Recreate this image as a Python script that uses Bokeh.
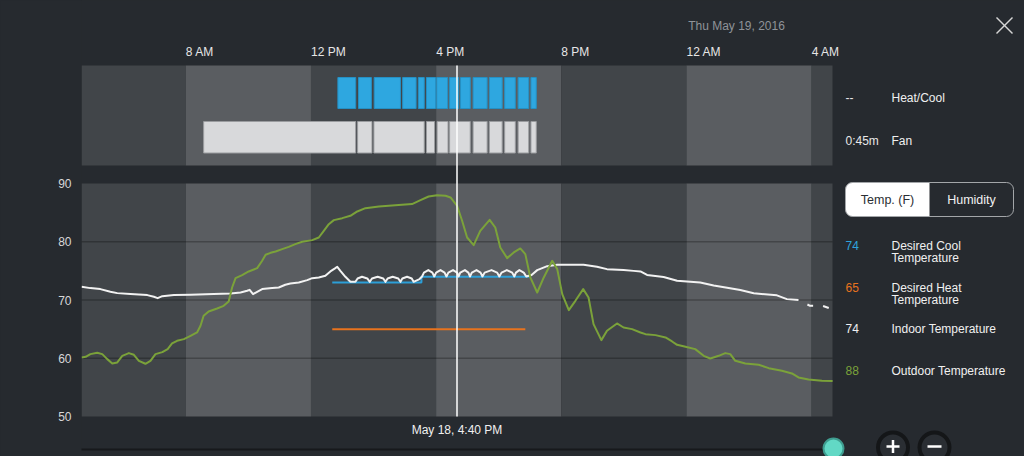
from bokeh.plotting import figure
from bokeh.models import Range1d, FixedTicker
from bokeh.embed import file_html
from bokeh.resources import INLINE
from bokeh.core.properties import value

# ---------------- data ----------------
window_start = 4 + 40 / 60           # May 18, 4:40 AM (hours after midnight of May 18)
window_end = window_start + 24        # May 19, 4:40 AM
cursor_hour = 16 + 40 / 60            # May 18, 4:40 PM
cursor_label = "May 18, 4:40 PM"
date_label = "Thu May 19, 2016"

tick_hours = [8, 12, 16, 20, 24, 28]
tick_labels = ["8 AM", "12 PM", "4 PM", "8 PM", "12 AM", "4 AM"]

band_start = [window_start, 8, 12, 16, 20, 24, 28]
band_end = [8, 12, 16, 20, 24, 28, window_end]
band_shade = ["dark", "light", "dark", "light", "dark", "light", "dark"]

temp_ticks = [50, 60, 70, 80, 90]
grid_temps = [60, 70, 80]

# equipment run periods (hours)
heatcool_on = [12.86, 13.52, 14.02, 14.93, 15.43, 15.69, 16.02, 16.43, 16.78, 17.18, 17.70, 18.19, 18.62, 19.03]
heatcool_off = [13.43, 13.93, 14.86, 15.36, 15.62, 15.98, 16.37, 16.72, 17.09, 17.63, 18.11, 18.53, 18.96, 19.20]
fan_on = [8.57, 13.49, 14.01, 15.69, 16.03, 16.43, 17.18, 17.70, 18.19, 18.62, 19.03]
fan_off = [13.43, 13.95, 15.62, 15.95, 16.38, 17.09, 17.63, 18.11, 18.53, 18.96, 19.20]

# outdoor temperature (F)
outdoor_h = [4.67, 4.80, 4.95, 5.17, 5.33, 5.49, 5.65, 5.81, 5.97, 6.18, 6.34, 6.50, 6.71, 6.87,
             7.03, 7.25, 7.42, 7.56, 7.72, 7.94, 8.15, 8.36, 8.47, 8.57, 8.73, 9.00, 9.21, 9.37,
             9.48, 9.59, 9.80, 10.01, 10.28, 10.44, 10.55, 10.71, 10.87, 11.08, 11.29, 11.50,
             11.72, 12.04, 12.25, 12.41, 12.57, 12.73, 13.00, 13.26, 13.48, 13.74, 14.17, 14.80,
             15.23, 15.50, 15.76, 16.03, 16.30, 16.46, 16.67, 16.83, 16.99, 17.20, 17.41, 17.71,
             17.89, 18.05, 18.27, 18.48, 18.69, 18.85, 19.01, 19.23, 19.44, 19.71, 19.87, 20.03,
             20.24, 20.45, 20.70, 20.87, 21.03, 21.28, 21.46, 21.78, 21.99, 22.26, 22.53, 22.69,
             23.01, 23.33, 23.54, 23.70, 23.97, 24.28, 24.55, 24.76, 25.03, 25.24, 25.40, 25.56,
             25.88, 26.31, 26.63, 27.05, 27.37, 27.58, 27.90, 28.33, 28.67]
outdoor_f = [60.13, 60.25, 60.71, 60.94, 60.71, 59.85, 59.10, 59.28, 60.42, 60.88, 60.59, 59.56, 59.05, 59.56,
             60.71, 61.05, 61.57, 62.54, 63.00, 63.28, 63.85, 64.43, 65.57, 67.29, 68.03, 68.55, 69.00, 69.75,
             72.15, 73.75, 74.27, 74.90, 75.47, 76.73, 77.76, 78.10, 78.33, 78.73, 79.13, 79.59,
             79.99, 80.28, 80.73, 81.88, 83.02, 83.71, 84.05, 84.45, 85.20, 85.77, 86.06, 86.29,
             86.46, 87.14, 87.77, 88.00, 87.89, 87.60, 86.17, 83.60, 80.73, 79.42, 81.88, 83.77,
             82.45, 79.02, 77.19, 78.16, 78.85, 77.87, 73.87, 71.29, 73.87, 76.73, 75.30, 71.01,
             68.26, 69.86, 71.87, 70.43, 65.86, 63.11, 64.71, 65.97, 65.28, 65.00, 64.43, 64.14,
             63.97, 63.57, 62.88, 62.31, 61.97, 61.57, 60.42, 59.96, 60.42, 60.88, 60.71, 59.56,
             59.10, 58.88, 58.30, 57.85, 57.39, 56.70, 56.36, 56.13, 56.08]

# indoor temperature (F), recorded part
indoor_h = [4.67, 4.95, 5.27, 5.59, 5.81, 6.23, 6.77, 6.98, 7.10, 7.25, 7.62, 8.15, 8.89, 9.43,
            9.75, 9.96, 10.04, 10.15, 10.28, 10.44, 10.76, 10.97, 11.18, 11.34, 11.61, 11.88,
            12.04, 12.25, 12.46, 12.62, 12.78, 12.84, 12.94, 13.10, 13.26, 13.42,
            13.49, 13.63, 13.80, 13.88, 13.95, 14.13, 14.31, 14.38, 14.45, 14.61, 14.79, 14.86,
            14.92, 15.07, 15.22, 15.28, 15.47, 15.55,
            15.61, 15.75, 15.88, 15.94, 16.00, 16.14, 16.27, 16.33, 16.39, 16.54, 16.67, 16.72,
            16.77, 16.92, 17.03, 17.08, 17.14, 17.29, 17.42, 17.48, 17.55, 17.77, 17.95, 18.02,
            18.09, 18.26, 18.43, 18.50, 18.55, 18.66, 18.80, 18.88,
            19.05, 19.23, 19.55, 19.87, 20.71, 21.14, 21.46, 21.99, 22.31, 22.53, 22.74, 23.27,
            23.70, 24.44, 24.87, 25.30, 25.72, 26.15, 26.89, 27.21, 27.58]
indoor_f = [72.27, 72.04, 71.87, 71.41, 71.18, 71.01, 70.84, 70.55, 70.32, 70.66, 70.84, 70.89, 71.01, 71.12,
            71.29, 71.58, 71.75, 71.01, 71.41, 71.87, 72.04, 72.15, 72.61, 72.84, 73.01, 73.41,
            73.75, 73.87, 74.15, 74.90, 75.47, 75.70, 75.01, 73.98, 73.12, 73.12,
            73.70, 74.00, 73.70, 73.12, 73.70, 74.00, 73.70, 73.12, 73.70, 74.00, 73.70, 73.12,
            73.70, 74.00, 73.70, 73.12, 73.60, 74.04,
            74.70, 75.13, 74.70, 74.04, 74.70, 75.13, 74.70, 74.04, 74.70, 75.13, 74.70, 74.04,
            74.70, 75.13, 74.70, 74.04, 74.70, 75.13, 74.70, 74.04, 74.70, 75.13, 74.70, 74.04,
            74.70, 75.13, 74.70, 74.04, 74.70, 75.13, 74.70, 74.04,
            74.30, 75.13, 75.81, 76.04, 76.04, 75.70, 75.30, 75.13, 75.00, 74.90, 74.30, 73.95,
            73.30, 73.00, 72.50, 72.10, 71.70, 71.15, 70.80, 70.15, 70.00]
# indoor temperature, sparse readings at the end (dashed)
indoor_tail_h = [27.58, 27.95, 28.35, 28.67]
indoor_tail_f = [70.00, 69.00, 69.00, 68.40]

# thermostat set points
cool_h = [12.68, 15.53, 15.53, 18.96]
cool_f = [73, 73, 74, 74]
heat_h = [12.68, 18.85]
heat_f = [65, 65]

status_names = ["Heat/Cool", "Fan"]
status_values = ["--", "0:45m"]
series_line1 = ["Desired Cool", "Desired Heat", "Indoor Temperature", "Outdoor Temperature"]
series_line2 = ["Temperature", "Temperature", "", ""]
series_values = ["74", "65", "74", "88"]
toggle_labels = ["Temp. (F)", "Humidity"]

# ---------------- styling / layout ----------------
FONT = "Liberation Sans"
W, H = 1024, 456
LEFT_PX, RIGHT_PX = 81, 832
T_TOP_PX, T_BOT_PX = 183, 416
BG = "#262a2f"
DARK_BAND = "#414549"
LIGHT_BAND = "#5a5d61"
BLUE = "#2ea7e0"
ORANGE = "#e8731e"
GREEN = "#7ba23a"
WHITE = "#f2f2f2"

px_per_hour = (RIGHT_PX - LEFT_PX) / 24.0
px_per_deg = (T_BOT_PX - T_TOP_PX) / 40.0
x_range = Range1d(window_start, window_start + (W - LEFT_PX) / px_per_hour)
y_range = Range1d(50 - (H - T_BOT_PX) / px_per_deg, 90 + T_TOP_PX / px_per_deg)

p = figure(width=W, height=H, x_range=x_range, y_range=y_range,
           output_backend="svg", toolbar_location=None, tools="",
           x_axis_location=None, y_axis_location="left",
           min_border_left=LEFT_PX, min_border_right=0, min_border_top=0, min_border_bottom=0,
           background_fill_color=BG, border_fill_color=BG, outline_line_color=None)
p.extra_x_ranges = {"scr": Range1d(LEFT_PX, W)}
p.extra_y_ranges = {"scr": Range1d(H, 0)}
p.xgrid.visible = False
p.ygrid.visible = False

ax = p.yaxis[0]
ax.ticker = FixedTicker(ticks=temp_ticks)
ax.axis_line_color = None
ax.major_tick_line_color = None
ax.minor_tick_line_color = None
ax.major_tick_out = 0
ax.major_tick_in = 0
ax.major_label_standoff = 10
ax.major_label_text_color = "#d8d8d8"
ax.major_label_text_font = FONT
ax.major_label_text_font_size = "12px"

shade_color = {"dark": DARK_BAND, "light": LIGHT_BAND}
band_colors = [shade_color[s] for s in band_shade]

# page background behind everything inside the frame (covers any seam)
p.quad(left=[LEFT_PX - 2], right=[W + 2], top=[-2], bottom=[H + 2], fill_color=BG, line_color=None,
       x_range_name="scr", y_range_name="scr")

# time-of-day bands: status panel and temperature panel
p.quad(left=band_start, right=band_end, top=65, bottom=165, fill_color=band_colors,
       line_color=None, y_range_name="scr")
p.quad(left=band_start, right=band_end, bottom=50, top=90, fill_color=band_colors, line_color=None)

# horizontal grid lines
p.segment(x0=[window_start] * len(grid_temps), x1=[window_end] * len(grid_temps),
          y0=grid_temps, y1=grid_temps, line_color="#000000", line_alpha=0.25, line_width=1.5)

# status bars
p.quad(left=heatcool_on, right=heatcool_off, top=77, bottom=108, fill_color=BLUE,
       line_color="#2590c4", line_width=1, y_range_name="scr")
p.quad(left=fan_on, right=fan_off, top=121, bottom=152.5, fill_color="#d8d9db",
       line_color="#9a9c9f", line_width=1, y_range_name="scr")

# set points
p.line(heat_h, heat_f, line_color=ORANGE, line_width=2)
p.line(cool_h, cool_f, line_color="#2c9fd8", line_width=2)

# indoor / outdoor
p.line(indoor_h, indoor_f, line_color=WHITE, line_width=2, line_join="round")
p.line(indoor_tail_h, indoor_tail_f, line_color=WHITE, line_width=2,
       line_dash="6 10", line_dash_offset=6)
p.line(outdoor_h, outdoor_f, line_color=GREEN, line_width=2, line_join="round")

# cursor
p.segment(x0=[cursor_hour], x1=[cursor_hour], y0=[65], y1=[T_BOT_PX], line_color="#ffffff",
          line_width=1.5, y_range_name="scr")
p.text(x=[cursor_hour], y=[429], text=[cursor_label], y_range_name="scr",
       text_font=value(FONT), text_font_size="12px", text_color="#f0f0f0",
       text_align="center", text_baseline="middle")

# time tick labels (left aligned at the tick)
p.text(x=tick_hours, y=[51] * len(tick_hours), text=tick_labels, y_range_name="scr",
       text_font=value(FONT), text_font_size="12px", text_color="#e6e6e6",
       text_align="left", text_baseline="middle")

# date
p.text(x=[736], y=[25], text=[date_label], x_range_name="scr", y_range_name="scr",
       text_font=value(FONT), text_font_size="12px", text_color="#8f9398",
       text_align="center", text_baseline="middle")

# close icon
p.multi_line(xs=[[996, 1012], [996, 1012]], ys=[[17, 33], [33, 17]], line_color="#d6d6d6",
             line_width=1.5, x_range_name="scr", y_range_name="scr")

# status legend
p.text(x=[845] * 2, y=[97, 140], text=status_values, x_range_name="scr", y_range_name="scr",
       text_font=value(FONT), text_font_size="12px", text_color="#e8e8e8",
       text_align="left", text_baseline="middle")
p.text(x=[891] * 2, y=[97, 140], text=status_names, x_range_name="scr", y_range_name="scr",
       text_font=value(FONT), text_font_size="12px", text_color="#f0f0f0",
       text_align="left", text_baseline="middle")

# toggle
p.quad(left=[845], right=[929], top=[182], bottom=[216], fill_color="#ffffff", line_color=None,
       border_radius=(7, 0, 0, 7), x_range_name="scr", y_range_name="scr")
p.quad(left=[845], right=[1013], top=[182], bottom=[216], fill_color=None, line_color="#a3a6a9",
       line_width=1, border_radius=7, x_range_name="scr", y_range_name="scr")
p.text(x=[887, 971], y=[199.5, 199.5], text=toggle_labels, x_range_name="scr", y_range_name="scr",
       text_font=value(FONT), text_font_size="12.5px", text_color=["#2a2e33", "#f2f2f2"],
       text_align="center", text_baseline="middle")

# series legend
legend_y = [245, 287, 328, 370]
p.text(x=[845] * 4, y=legend_y, text=series_values, x_range_name="scr", y_range_name="scr",
       text_font=value(FONT), text_font_size="12px",
       text_color=["#2ea3dc", ORANGE, "#f0f0f0", GREEN],
       text_align="left", text_baseline="middle")
p.text(x=[891] * 4, y=legend_y, text=series_line1, x_range_name="scr", y_range_name="scr",
       text_font=value(FONT), text_font_size="12px", text_color="#f0f0f0",
       text_align="left", text_baseline="middle")
p.text(x=[891] * 4, y=[v + 12 for v in legend_y], text=series_line2, x_range_name="scr",
       y_range_name="scr", text_font=value(FONT), text_font_size="12px", text_color="#f0f0f0",
       text_align="left", text_baseline="middle")

# bottom slider and zoom buttons
p.segment(x0=[80], x1=[826], y0=[449], y1=[449], line_color="#17191c", line_width=2,
          x_range_name="scr", y_range_name="scr")
p.scatter(x=[833], y=[448], size=20, marker="circle", fill_color="#62d8c5",
          line_color="#3f9d90", line_width=2, x_range_name="scr", y_range_name="scr")
p.scatter(x=[892.5, 934], y=[447, 447], size=30, marker="circle", fill_color="#2a2e33",
          line_color="#141618", line_width=4, x_range_name="scr", y_range_name="scr")
p.scatter(x=[892.5], y=[446], size=13, marker="cross", line_color="#ffffff", line_width=2.5,
          x_range_name="scr", y_range_name="scr")
p.scatter(x=[934], y=[446], size=14, marker="dash", line_color="#ffffff", line_width=2.5,
          x_range_name="scr", y_range_name="scr")

html = file_html(p, INLINE)
html = html.replace("</head>", "<style>html, body { margin: 0; background: #262a2f; }</style></head>", 1)
open("out.html", "w").write(html)
